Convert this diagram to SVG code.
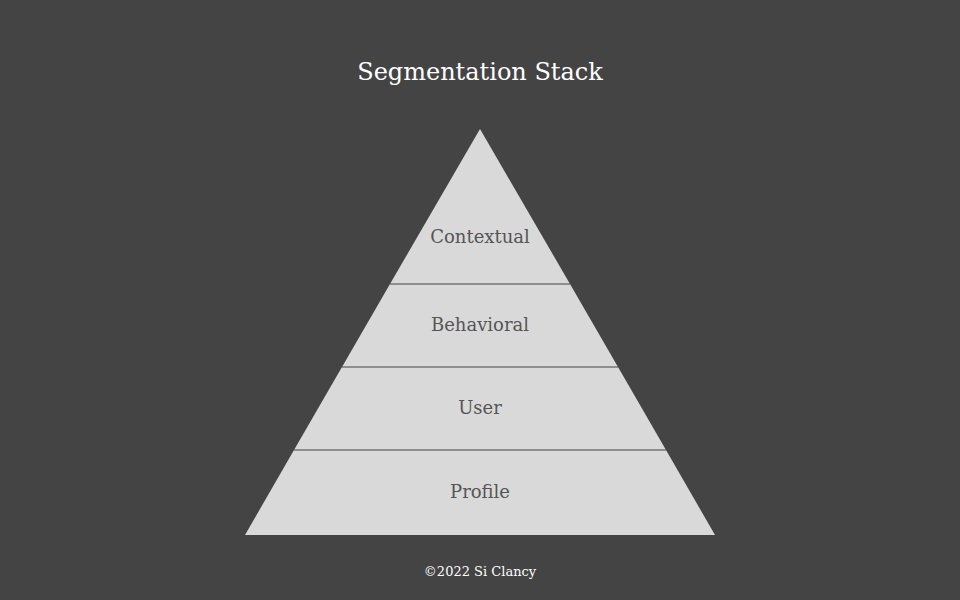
<svg xmlns="http://www.w3.org/2000/svg" width="960" height="600" viewBox="0 0 960 600">
<style>
.t{font-family:"DejaVu Serif","Liberation Serif",serif;text-anchor:middle}
.lbl{font-size:18px;fill:#555}
.tier{fill:#d9d9d9;stroke:none}
.sep{stroke:#444;stroke-width:1}
</style>
<rect width="960" height="600" fill="#444"/>
<text class="t" x="480" y="80" font-size="24" fill="#fff">Segmentation Stack</text>
<g id="contextual"><polygon class="tier" points="480,129 570,284 390,284"/><text class="t lbl" x="480" y="243">Contextual</text></g>
<g id="behavioral"><polygon class="tier" points="390,284 570,284 618,367 342,367"/><text class="t lbl" x="480" y="331">Behavioral</text></g>
<g id="user"><polygon class="tier" points="342,367 618,367 666,450 294,450"/><text class="t lbl" x="480" y="414">User</text></g>
<g id="profile"><polygon class="tier" points="294,450 666,450 715,535 245,535"/><text class="t lbl" x="480" y="498">Profile</text></g>
<g id="connectors"><line class="sep" x1="390" y1="284" x2="570" y2="284"/><line class="sep" x1="342" y1="367" x2="618" y2="367"/><line class="sep" x1="294" y1="450" x2="666" y2="450"/></g>
<text class="t" x="480" y="576" font-size="13" fill="#fff">©2022 Si Clancy</text>
</svg>
